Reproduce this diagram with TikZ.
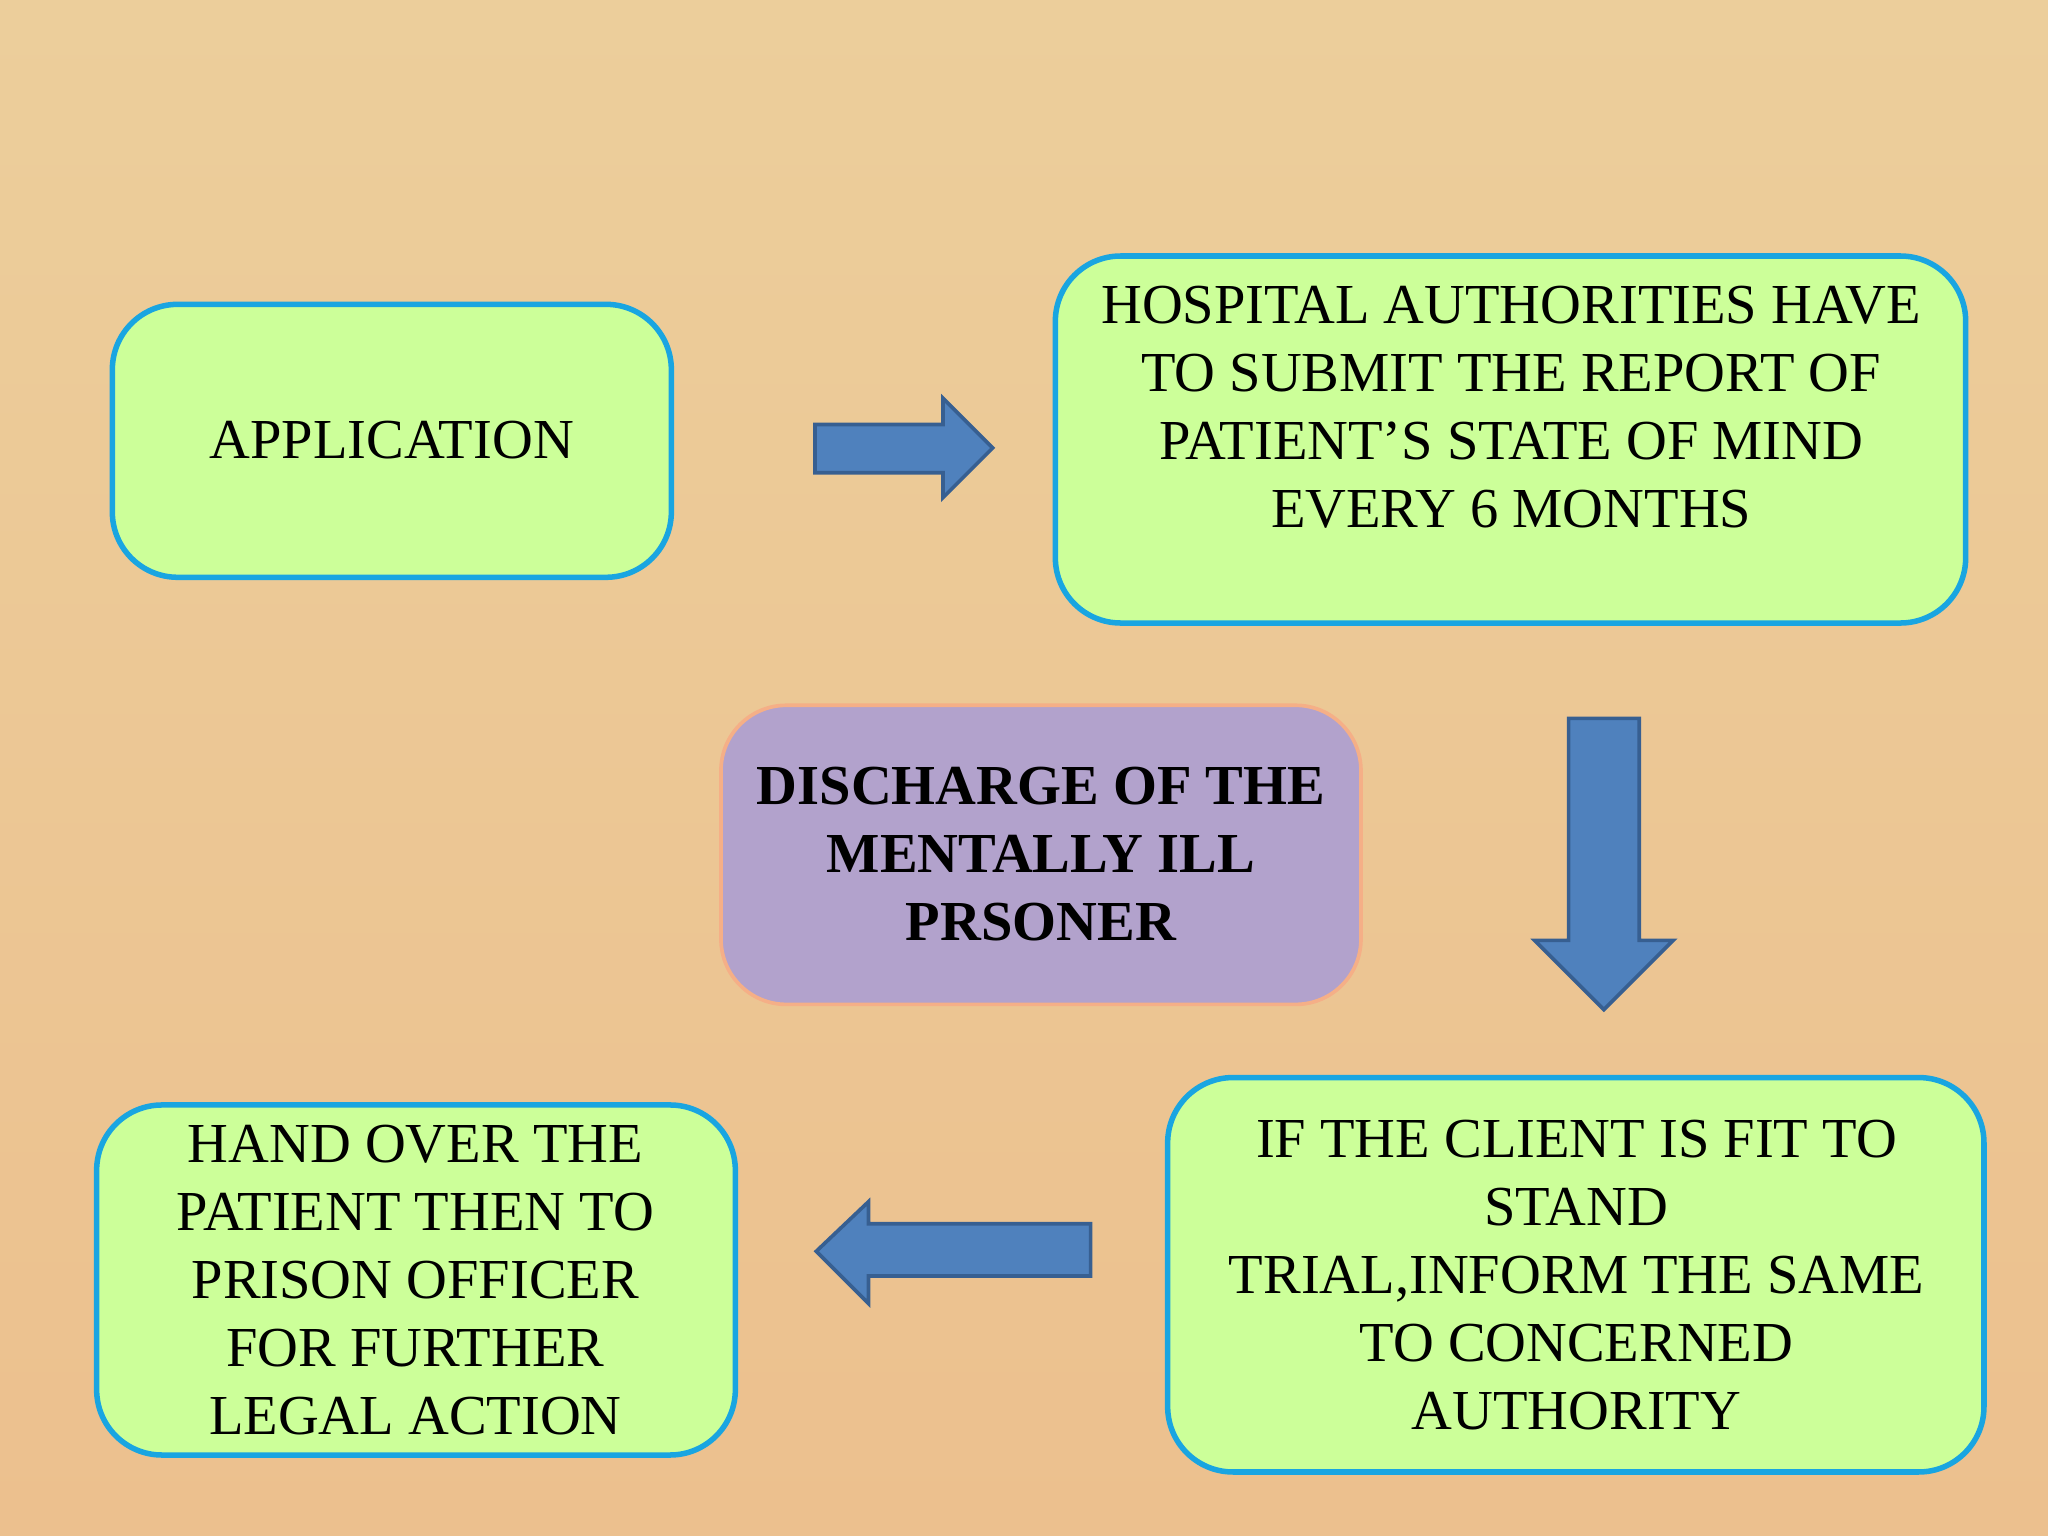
\documentclass[tikz,border=0pt]{standalone}
\usepackage{fontspec}
\setmainfont{Liberation Serif}
\begin{document}
\begin{tikzpicture}[x=0.01cm,y=-0.01cm,
 gbox/.style={draw=boxline,line width=1.2pt,fill=boxfill,rounded corners=0.5cm},
 txt/.style={align=center,font=\fontsize{12.3}{14.8}\selectfont},
 arr/.style={fill=arrfill,draw=arrline,line width=0.8pt,line join=miter}]
\definecolor{boxfill}{RGB}{204,255,153}
\definecolor{boxline}{RGB}{25,165,225}
\definecolor{arrfill}{RGB}{79,129,189}
\definecolor{arrline}{RGB}{55,95,145}
\definecolor{pfill}{RGB}{178,162,204}
\definecolor{pline}{RGB}{245,175,135}
\definecolor{bgtop}{RGB}{236,206,155}
\definecolor{bgbot}{RGB}{236,192,142}
\shade[top color=bgtop,bottom color=bgbot] (0,0) rectangle (1568,1176);
\useasboundingbox (0,0) rectangle (1568,1176);
\draw[gbox] (86,233) rectangle (514,442);
\node[txt] (a) at (300,337) {APPLICATION};
\draw[gbox] (808,196) rectangle (1505,477);
\node[txt] (b) at (1157,312) {HOSPITAL AUTHORITIES HAVE\\TO SUBMIT THE REPORT OF\\PATIENT’S STATE OF MIND\\EVERY 6 MONTHS};
\draw[fill=pfill,draw=pline,line width=0.8pt,rounded corners=0.5cm] (552,540) rectangle (1042,769);
\node[txt,font=\fontsize{12.3}{14.8}\selectfont\bfseries] (c) at (797,654) {DISCHARGE OF THE\\MENTALLY ILL\\PRSONER};
\draw[gbox] (894,825) rectangle (1519,1127);
\node[txt] (d) at (1207,976) {IF THE CLIENT IS FIT TO\\STAND\\TRIAL,INFORM THE SAME\\TO CONCERNED\\AUTHORITY};
\draw[gbox] (74,846) rectangle (563,1114);
\node[txt] (e) at (318,980) {HAND OVER THE\\PATIENT THEN TO\\PRISON OFFICER\\FOR FURTHER\\LEGAL ACTION};
\draw[arr] (624,325) -- (722,325) -- (722,305) -- (760,343) -- (722,381) -- (722,362) -- (624,362) -- cycle;
\draw[arr] (1201,550) -- (1255,550) -- (1255,720) -- (1281,720) -- (1228,773) -- (1175,720) -- (1201,720) -- cycle;
\draw[arr] (835,937) -- (665,937) -- (665,920) -- (625,958) -- (665,998) -- (665,977) -- (835,977) -- cycle;
\end{tikzpicture}
\end{document}
